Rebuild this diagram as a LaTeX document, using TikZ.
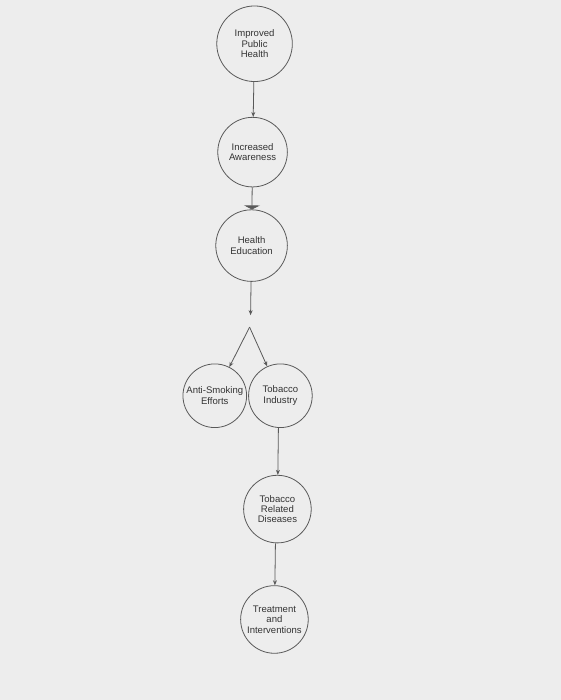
\documentclass[tikz,border=0pt]{standalone}
\usepackage{fontspec}
\setmainfont{Liberation Sans}
\usetikzlibrary{arrows.meta}
\begin{document}
\begin{tikzpicture}[x=1pt,y=-1pt,
  bubble/.style={circle,draw=black!65,line width=0.8pt,minimum size=#1,inner sep=0pt,align=center,font=\fontsize{9.6}{10.5}\selectfont,text=black!80},
  link/.style={draw=black!65,line width=0.8pt,-{Stealth[length=5pt,width=4pt]}}]
\fill[black!7] (-2,-2) rectangle (562,702);
\useasboundingbox (0,0) rectangle (560,700);
\node[bubble=76pt] (a) at (254,42) {Improved\\Public\\Health};
\node[bubble=70pt] (b) at (252,151) {Increased\\Awareness};
\node[bubble=72pt] (c) at (251,245) {Health\\Education};
\node[bubble=64pt] (d) at (214,396) {Anti-Smoking\\Efforts};
\node[bubble=64pt] (e) at (280,396) {Tobacco\\Industry};
\node[bubble=68pt] (f) at (277,510) {Tobacco\\Related\\Diseases};
\node[bubble=68pt] (g) at (274,621) {Treatment\\and\\Interventions};
\coordinate (cend) at (250,315);
\coordinate (apex) at (249,327);
\draw[link] (a) -- (b);
\draw[draw=black!65,line width=0.8pt,-{Triangle[length=4pt,width=16pt]}] (b) -- (c);
\draw[link] (c) -- (cend);
\draw[link] (apex) -- (d);
\draw[link] (apex) -- (e);
\draw[link] (e.south -| 278,0) -- (f);
\draw[link] (f.south -| 275,0) -- (g);
\end{tikzpicture}
\end{document}
